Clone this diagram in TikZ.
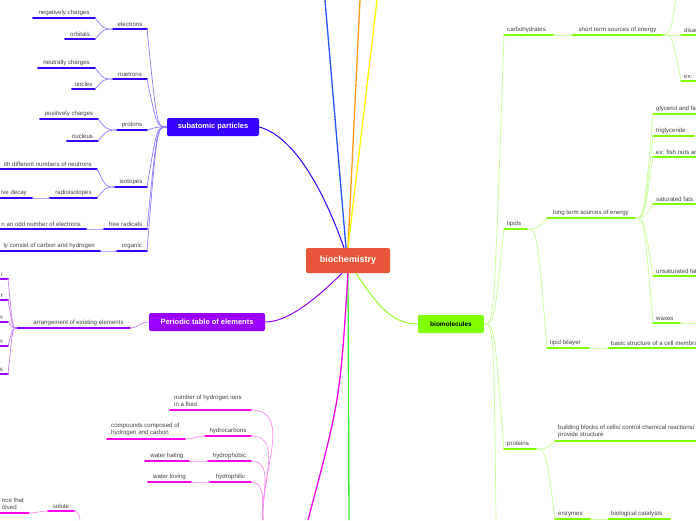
\documentclass[tikz,border=0pt]{standalone}
\usepackage{fontspec}
\setmainfont{Liberation Sans}
\usetikzlibrary{calc}
\definecolor{cred}{HTML}{E8563A}
\definecolor{cblue}{HTML}{3300FF}
\definecolor{cblueL}{HTML}{8A7BFF}
\definecolor{cpur}{HTML}{9900FF}
\definecolor{cpurL}{HTML}{C77BFF}
\definecolor{cmag}{HTML}{FF00EE}
\definecolor{cmagL}{HTML}{FF8CF5}
\definecolor{cgrn}{HTML}{80FF00}
\definecolor{cgrnL}{HTML}{C8FF99}
\definecolor{ctopb}{HTML}{2255FF}
\definecolor{corg}{HTML}{FF9A1A}
\definecolor{cyel}{HTML}{FFFF00}
\definecolor{cvgr}{HTML}{33EE33}
\tikzset{
 ul/.style={line width=2pt,line cap=round},
 lbl/.style={font=\fontsize{6.1}{7}\selectfont,text=black!75,inner sep=1pt,align=left},
 topic/.style={rounded corners=2pt,font=\bfseries\fontsize{7.5}{9}\selectfont,text=white,minimum height=18pt,inner sep=3pt},
 conn/.style={line width=0.7pt},
}
\newcommand\leafC[6]{\coordinate (#1L) at (#2,#4); \coordinate (#1R) at (#3,#4);
 \draw[ul,#5] (#1L) -- (#1R); \node[lbl,anchor=south] (#1) at ({(#2+#3)/2},#4-1.5) {#6};}
\newcommand\leafW[6]{\coordinate (#1L) at (#2,#4); \coordinate (#1R) at (#3,#4);
 \draw[ul,#5] (#1L) -- (#1R); \node[lbl,anchor=south west] (#1) at (#2+2,#4-1.5) {#6};}
\newcommand\leafE[6]{\coordinate (#1L) at (#2,#4); \coordinate (#1R) at (#3,#4);
 \draw[ul,#5] (#1L) -- (#1R); \node[lbl,anchor=south east] (#1) at (#3-4,#4-1.5) {#6};}
% trunk connector: style, from, to, horizontal offset of trunk
\newcommand\vcon[4]{\draw[conn,#1] (#2) .. controls ($(#2)+(#4,0)$) and ($(#2 -| #3)+(-#4,0)$) .. ($(#3)$);}
\begin{document}
\begin{tikzpicture}[x=1pt,y=-1pt]
\useasboundingbox (0,0) rectangle (696,520);
\clip (0,0) rectangle (696,520);
\fill[white] (0,0) rectangle (696,520);
\node[topic,fill=cred,minimum width=84pt,minimum height=25pt,font=\bfseries\fontsize{9}{11}\selectfont] (bio) at (348,260.5) {biochemistry};
\node[topic,fill=cblue,minimum width=92pt] (sub) at (213,127) {subatomic particles};
\node[topic,fill=cpur,minimum width=116pt] (per) at (207,322) {Periodic table of elements};
\node[topic,fill=cgrn,text=black,minimum width=66pt,font=\bfseries\fontsize{6.5}{8}\selectfont] (bmol) at (451,324) {biomolecules};
\coordinate (topB) at (325,0); \coordinate (topO) at (360,0); \coordinate (topY) at (377,0);
\coordinate (botG) at (349,520); \coordinate (botM) at (308,520);
\draw[ctopb,line width=1.3pt] (bio.north) ++(-2,0) coordinate (bn1) (bn1) -- (topB);
\draw[corg,line width=1.3pt] (bio.north) -- (topO);
\draw[cyel,line width=1.3pt] (bio.north) -- (topY);
\draw[cvgr,line width=1.3pt] (bio.south) -- (botG);
\draw[cmag,line width=1.3pt] (bio.south) .. controls (340,400) .. (botM);
\draw[cblue,line width=1pt] (bio.north) ++(-4,0) coordinate (bn2) (bn2) .. controls (320,180) and (290,135) .. (sub.east);
\draw[cpur,line width=1pt] (bio.south) ++(-6,0) coordinate (bs1) (bs1) .. controls (310,305) and (285,322) .. (per.east);
\draw[cgrn,line width=0.8pt] (bio.south) ++(8,0) coordinate (bs2) (bs2) .. controls (380,310) and (395,324) .. (bmol.west);

% subatomic
\leafC{el}{113}{147}{29}{cblue}{electrons}
\leafC{ng}{33}{95}{18}{cblue}{negatively charges}
\leafC{or}{65}{95}{39}{cblue}{orbitals}
\leafC{nu}{113}{147}{79}{cblue}{nuetrons}
\leafC{nc}{38}{95}{68}{cblue}{neutrally charges}
\leafC{un}{72}{95}{89}{cblue}{uncles}
\leafC{pr}{117}{147}{130}{cblue}{protons}
\leafC{pc}{40}{98}{119}{cblue}{positively charges}
\leafC{nl}{67}{98}{141}{cblue}{nucleus}
\leafC{is}{115}{147}{187}{cblue}{isotopes}
\leafE{iw}{-10}{97}{169}{cblue}{ith different numbers of neutrons}
\leafC{ri}{50}{97}{198}{cblue}{radioisotopes}
\leafE{rd}{-10}{32}{198}{cblue}{ive decay}
\leafC{fr}{104}{147}{229}{cblue}{free radicals}
\leafE{fo}{-10}{86}{229}{cblue}{n an odd number of electrons}
\leafC{og}{117}{147}{251}{cblue}{organic}
\leafE{oc}{-10}{100}{251}{cblue}{ly consist of carbon and hydrogen}
\foreach \c in {el,nu,pr,is,fr,og} {\vcon{cblueL}{sub.west}{\c R}{-10}}
\foreach \p/\c in {el/ng,el/or,nu/nc,nu/un,pr/pc,pr/nl,is/iw,is/ri} {\vcon{cblueL}{\p L}{\c R}{-9}}
\foreach \p/\c in {ri/rd,fr/fo,og/oc} \draw[conn,cblueL] (\p L) to[out=180,in=0] (\c R);

% periodic
\leafC{ar}{27}{130}{328}{cpur}{arrangement of existing elements}
\draw[conn,cpurL] (per.west) to[out=180,in=0] (arR);
\coordinate (arJ) at (17,328); \draw[ul,cpur] (arL) -- (arJ);
\leafE{p1}{-10}{8}{279}{cpur}{r}
\leafE{p2}{-10}{8}{300}{cpur}{r}
\leafE{p3}{-10}{8}{322}{cpur}{n}
\leafE{p4}{-10}{8}{346}{cpur}{n}
\leafE{p5}{-10}{8}{374}{cpur}{s}
\foreach \c in {p1,p2,p3,p4,p5} {\vcon{cpurL}{arJ}{\c R}{-5}}

% magenta cluster
\coordinate (mJ) at (263,520);
\coordinate (ph) at (170,410); \coordinate (phR) at (251,410);
\draw[ul,cmag] (ph) -- (phR);
\node[lbl,anchor=south west] (phT) at (173,408) {number of hydrogen ions\\in a fluid};
\leafC{hc}{205}{251}{436}{cmag}{hydrocarbons}
\coordinate (cc) at (107,439); \coordinate (ccR) at (185,439);
\draw[ul,cmag] (cc) -- (ccR);
\node[lbl,anchor=south west] (ccT) at (110,437) {compounds composed of\\hydrogen and carbon};
\leafC{hb}{208}{251}{461}{cmag}{hydrophobic}
\leafC{wh}{145}{189}{461}{cmag}{water hating}
\leafC{hl}{210}{251}{482}{cmag}{hydrophilic}
\leafC{wl}{148}{191}{482}{cmag}{water loving}
\leafC{so}{48}{74}{511}{cmag}{solute}
\coordinate (st) at (-10,513); \coordinate (stR) at (29,513);
\draw[ul,cmag] (st) -- (stR);
\node[lbl,anchor=south east] (stT) at (25,511) {nce that\\olved};
\foreach \c in {phR,hcR,hbR,hlR} \draw[conn,cmagL] (\c) to[out=0,in=95] (mJ);
\draw[conn,cmagL] (hcL) to[out=180,in=0] (ccR);
\draw[conn,cmagL] (hbL) to[out=180,in=0] (whR);
\draw[conn,cmagL] (hlL) to[out=180,in=0] (wlR);
\draw[conn,cmagL] (soL) to[out=180,in=0] (stR);
\coordinate (soJ) at (80,520); \draw[conn,cmagL] (soR) to[out=0,in=95] (soJ);

% biomolecules
\leafW{ch}{504}{553}{35}{cgrn}{carbohydrates}
\leafC{st2}{572}{663}{35}{cgrn}{short term sources of energy}
\leafW{ds}{681}{710}{35}{cgrn}{disaccharides}
\leafW{ex1}{681}{710}{81}{cgrn}{ex:}
\coordinate (chUp) at (676,0);
\draw[conn,cgrnL] (chR) -- (st2L);
\draw[conn,cgrnL] (st2R) -- (dsL);
\vcon{cgrnL}{st2R}{ex1L}{9}
\draw[conn,cgrnL] (st2R) .. controls (672,35) and (672,20) .. (chUp);
\leafW{li}{504}{527}{229}{cgrn}{lipids}
\leafC{lt}{547}{635}{218}{cgrn}{long term sources of energy}
\leafW{gl}{653}{710}{114}{cgrn}{glycerol and fatty acids}
\leafW{tg}{653}{694}{136}{cgrn}{triglyceride}
\leafW{fn}{653}{710}{157}{cgrn}{ex: fish nuts and oils}
\leafW{sf}{653}{710}{204}{cgrn}{saturated fats}
\leafW{uf}{653}{710}{276}{cgrn}{unsaturated fats}
\leafW{wx}{653}{680}{323}{cgrn}{waxes}
\leafW{lb}{547}{589}{348}{cgrn}{lipid bilayer}
\leafW{bs}{608}{710}{348}{cgrn}{basic structure of a cell membrane}
\draw[conn,cgrnL] (wxR) -- (710,323);
\foreach \c in {gl,tg,fn,sf,uf,wx} {\vcon{cgrnL}{ltR}{\c L}{9}}
\vcon{cgrnL}{liR}{ltL}{10}
\vcon{cgrnL}{liR}{lbL}{10}
\draw[conn,cgrnL] (lbR) -- (bsL);
\leafW{pt}{504}{536}{449}{cgrn}{proteins}
\coordinate (bb) at (555,441); \coordinate (bbR) at (710,441);
\draw[ul,cgrn] (bb) -- (bbR);
\node[lbl,anchor=south west] (bbT) at (557,439) {building blocks of cells/ control chemical reactions/\\provide structure};
\leafW{en}{555}{590}{519}{cgrn}{enzymes}
\leafW{bc}{608}{670}{519}{cgrn}{biological catalysts}
\vcon{cgrnL}{ptR}{bb}{9}
\vcon{cgrnL}{ptR}{enL}{9}
\draw[conn,cgrnL] (enR) -- (bcL);
\coordinate (bmD) at (496,520);
\foreach \c in {ch,li,pt} {\vcon{cgrnL}{bmol.east}{\c L}{10}}
\draw[conn,cgrnL] (bmol.east) .. controls (494,324) and (494,340) .. (bmD);
\end{tikzpicture}
\end{document}
